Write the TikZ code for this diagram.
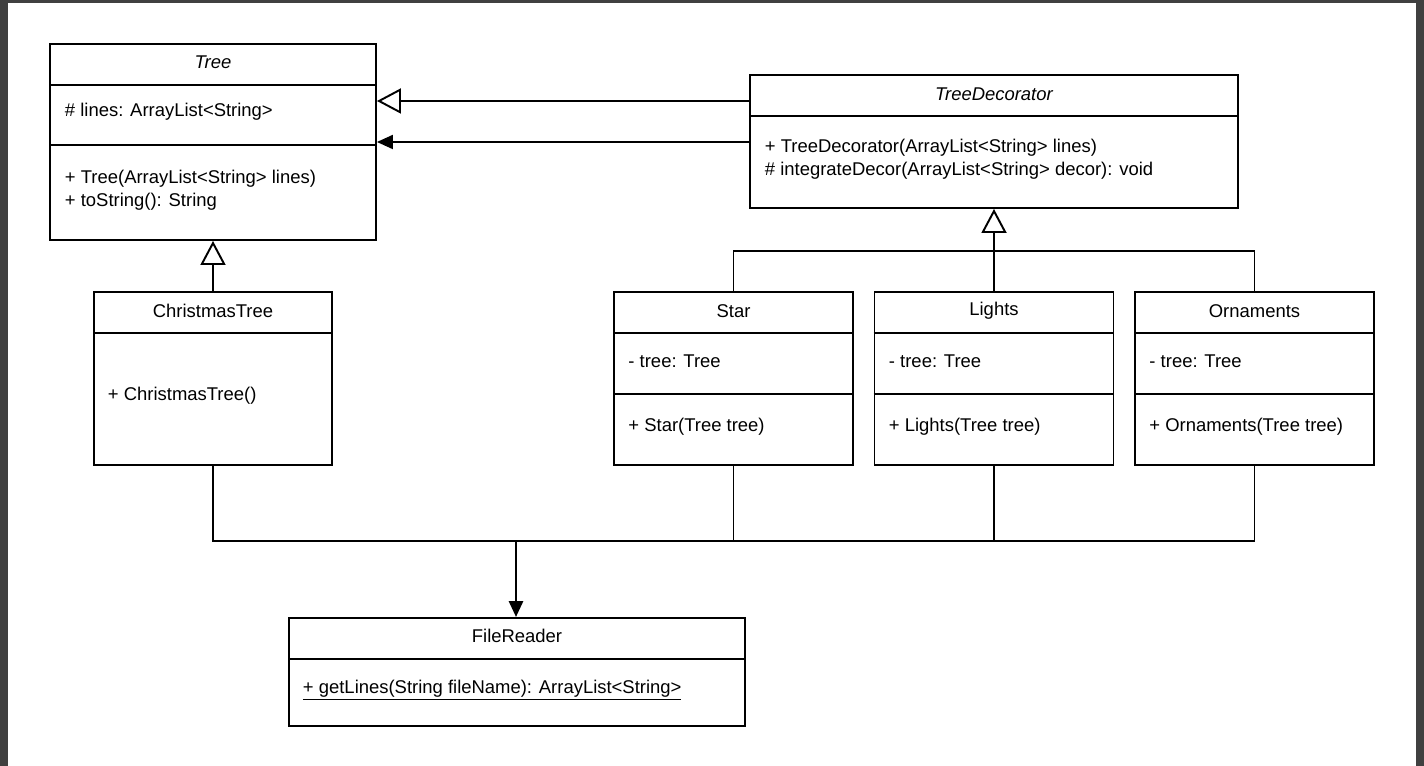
\documentclass[tikz,border=0pt]{standalone}
\usepackage{fontspec}
\setmainfont{Liberation Sans}
\usetikzlibrary{arrows.meta}
\begin{document}
\begin{tikzpicture}[x=0.02cm, y=-0.02cm, line width=1.1pt,
  boxStyle/.style={rectangle, draw, inner sep=0pt},
  textStyle/.style={anchor=west, inner sep=0pt, font=\fontsize{10.5}{13}\selectfont},
  titleStyle/.style={inner sep=0pt, font=\fontsize{10.5}{13}\selectfont},
  inherit/.style={-{Triangle[open, length=0.48cm, width=0.5cm, fill=white]}},
  assoc/.style={-{Triangle[length=0.32cm, width=0.28cm]}}]
  \fill[black!75] (0,0) rectangle (1424,766);
  \fill[white] (8,3) rectangle (1416,766);

  \node[boxStyle, minimum width=6.52cm, minimum height=3.92cm] (tree) at (213,142) {};
  \node[titleStyle] (tree_T) at (213,62) {\itshape Tree};
  \draw (tree.west |- 0,85) -- (tree.east |- 0,85);
  \draw (tree.west |- 0,145) -- (tree.east |- 0,145);
  \node[textStyle] (tree_A) at (64,112) {\# lines: ArrayList<String>};
  \node[textStyle] (tree_M1) at (64,179) {+ Tree(ArrayList<String> lines)};
  \node[textStyle] (tree_M2) at (64,202) {+ toString(): String};

  \node[boxStyle, minimum width=9.76cm, minimum height=2.66cm] (deco) at (994,141.5) {};
  \node[titleStyle] (deco_T) at (994,94) {\itshape TreeDecorator};
  \draw (deco.west |- 0,116) -- (deco.east |- 0,116);
  \node[textStyle] (deco_M1) at (764,148) {+ TreeDecorator(ArrayList<String> lines)};
  \node[textStyle] (deco_M2) at (764,171) {\# integrateDecor(ArrayList<String> decor): void};

  \node[boxStyle, minimum width=4.76cm, minimum height=3.46cm] (xmas) at (213,378.5) {};
  \node[titleStyle] (xmas_T) at (213,311) {ChristmasTree};
  \draw (xmas.west |- 0,333) -- (xmas.east |- 0,333);
  \node[textStyle] (xmas_M) at (107,396) {+ ChristmasTree()};

  \foreach \name/\cx/\mname in {star/733.5/Star, lights/994/Lights, orn/1254.5/Ornaments} {
    \node[boxStyle, minimum width=4.78cm, minimum height=3.46cm] (\name) at (\cx,378.5) {};
    \node[titleStyle] (\name_T) at (\cx,311) {\mname};
    \draw (\name.west |- 0,333) -- (\name.east |- 0,333);
    \draw (\name.west |- 0,394) -- (\name.east |- 0,394);
    \node[textStyle] (\name_A) at (\cx-106,361) {- tree: Tree};
    \node[textStyle] (\name_M) at (\cx-106,427) {+ \mname(Tree tree)};
  }

  \node[boxStyle, minimum width=9.12cm, minimum height=2.16cm] (reader) at (517,672) {};
  \node[titleStyle] (reader_T) at (517,636) {FileReader};
  \draw (reader.west |- 0,659) -- (reader.east |- 0,659);
  \node[textStyle] (reader_M) at (302,690) {\underline{+ getLines(String fileName): ArrayList<String>}};

  \coordinate (join_deco) at (994,251);
  \coordinate (join_file) at (516,541);

  \draw[inherit] (deco.west |- 0,101) -- (tree.east |- 0,101);
  \draw[assoc] (deco.west |- 0,142) -- (tree.east |- 0,142);
  \draw[inherit] (xmas.north) -- (tree.south);
  \draw (star.north) |- (join_deco) -| (orn.north);
  \draw[inherit] (lights.north) -- (deco.south);

  \draw (xmas.south) |- (join_file) -| (star.south);
  \draw (star.south |- join_file) -| (lights.south);
  \draw (lights.south |- join_file) -| (orn.south);
  \draw[assoc, line width=1.6pt] (join_file) -- (join_file |- reader.north);
\end{tikzpicture}
\end{document}
